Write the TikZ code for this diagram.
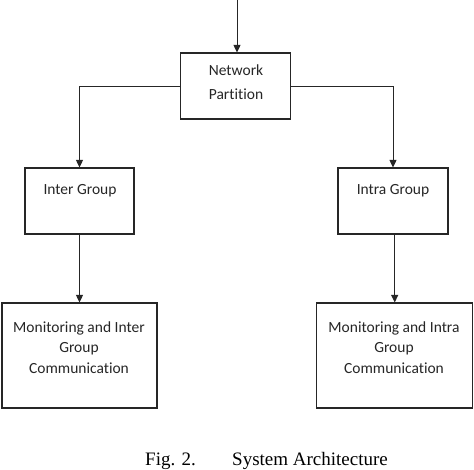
\documentclass[tikz,border=0pt]{standalone}
\usepackage{fontspec}
\setmainfont[Ligatures={NoCommon,NoDiscretionary,NoContextual}]{Carlito}
\newfontfamily\capfont{Liberation Serif}
\usetikzlibrary{arrows.meta}
\begin{document}
\begin{tikzpicture}[x=1pt,y=-1pt,
  boxstyle/.style={draw=black!85, line width=1.1pt, inner sep=0pt, rectangle},
  txt/.style={font=\fontsize{15.5}{20.5}\selectfont, align=center, text=black!85, inner sep=0pt},
  conn/.style={draw=black!85, line width=0.9pt, -{Triangle[length=7.5pt,width=7pt]}},
  line/.style={draw=black!85, line width=0.9pt}]
\useasboundingbox (0,0) rectangle (474,470);
% boxes
\node[boxstyle, minimum width=109.5pt, minimum height=66pt] (net) at (235.5,86) {};
\node[boxstyle, minimum width=109pt, minimum height=66pt] (inter) at (79.5,201) {};
\node[boxstyle, minimum width=110pt, minimum height=66pt] (intra) at (393,201) {};
\node[boxstyle, minimum width=155pt, minimum height=105pt] (monL) at (79.5,355.5) {};
\node[boxstyle, minimum width=156pt, minimum height=105pt] (monR) at (394.7,355.5) {};
% texts
\node[txt, font=\fontsize{15.5}{24}\selectfont] (netT) at (236,82) {Network\\Partition};
\node[txt] (interT) at (80,191) {Inter Group};
\node[txt] (intraT) at (393,191) {Intra Group};
\node[txt] (monLT) at (79,347.5) {Monitoring and Inter\\Group\\Communication};
\node[txt] (monRT) at (394,347.5) {Monitoring and Intra\\Group\\Communication};
% connectors
\coordinate (top) at (237,0);
\draw[conn] (top) -- (top |- net.north);
\draw[conn] (net.west) -| (inter.north);
\draw[conn] (net.east) -| (intra.north);
\draw[conn] (inter.south) -- (monL.north);
\draw[conn, line width=1.2pt] (monR.north |- intra.south) -- (monR.north);
% caption
\node[anchor=base west, inner sep=0pt, font=\capfont\fontsize{19}{22}\selectfont] (fig) at (145,465) {Fig. 2.};
\node[anchor=base west, inner sep=0pt, font=\capfont\fontsize{19}{22}\selectfont] (cap) at (232,465) {System Architecture};
\end{tikzpicture}
\end{document}
